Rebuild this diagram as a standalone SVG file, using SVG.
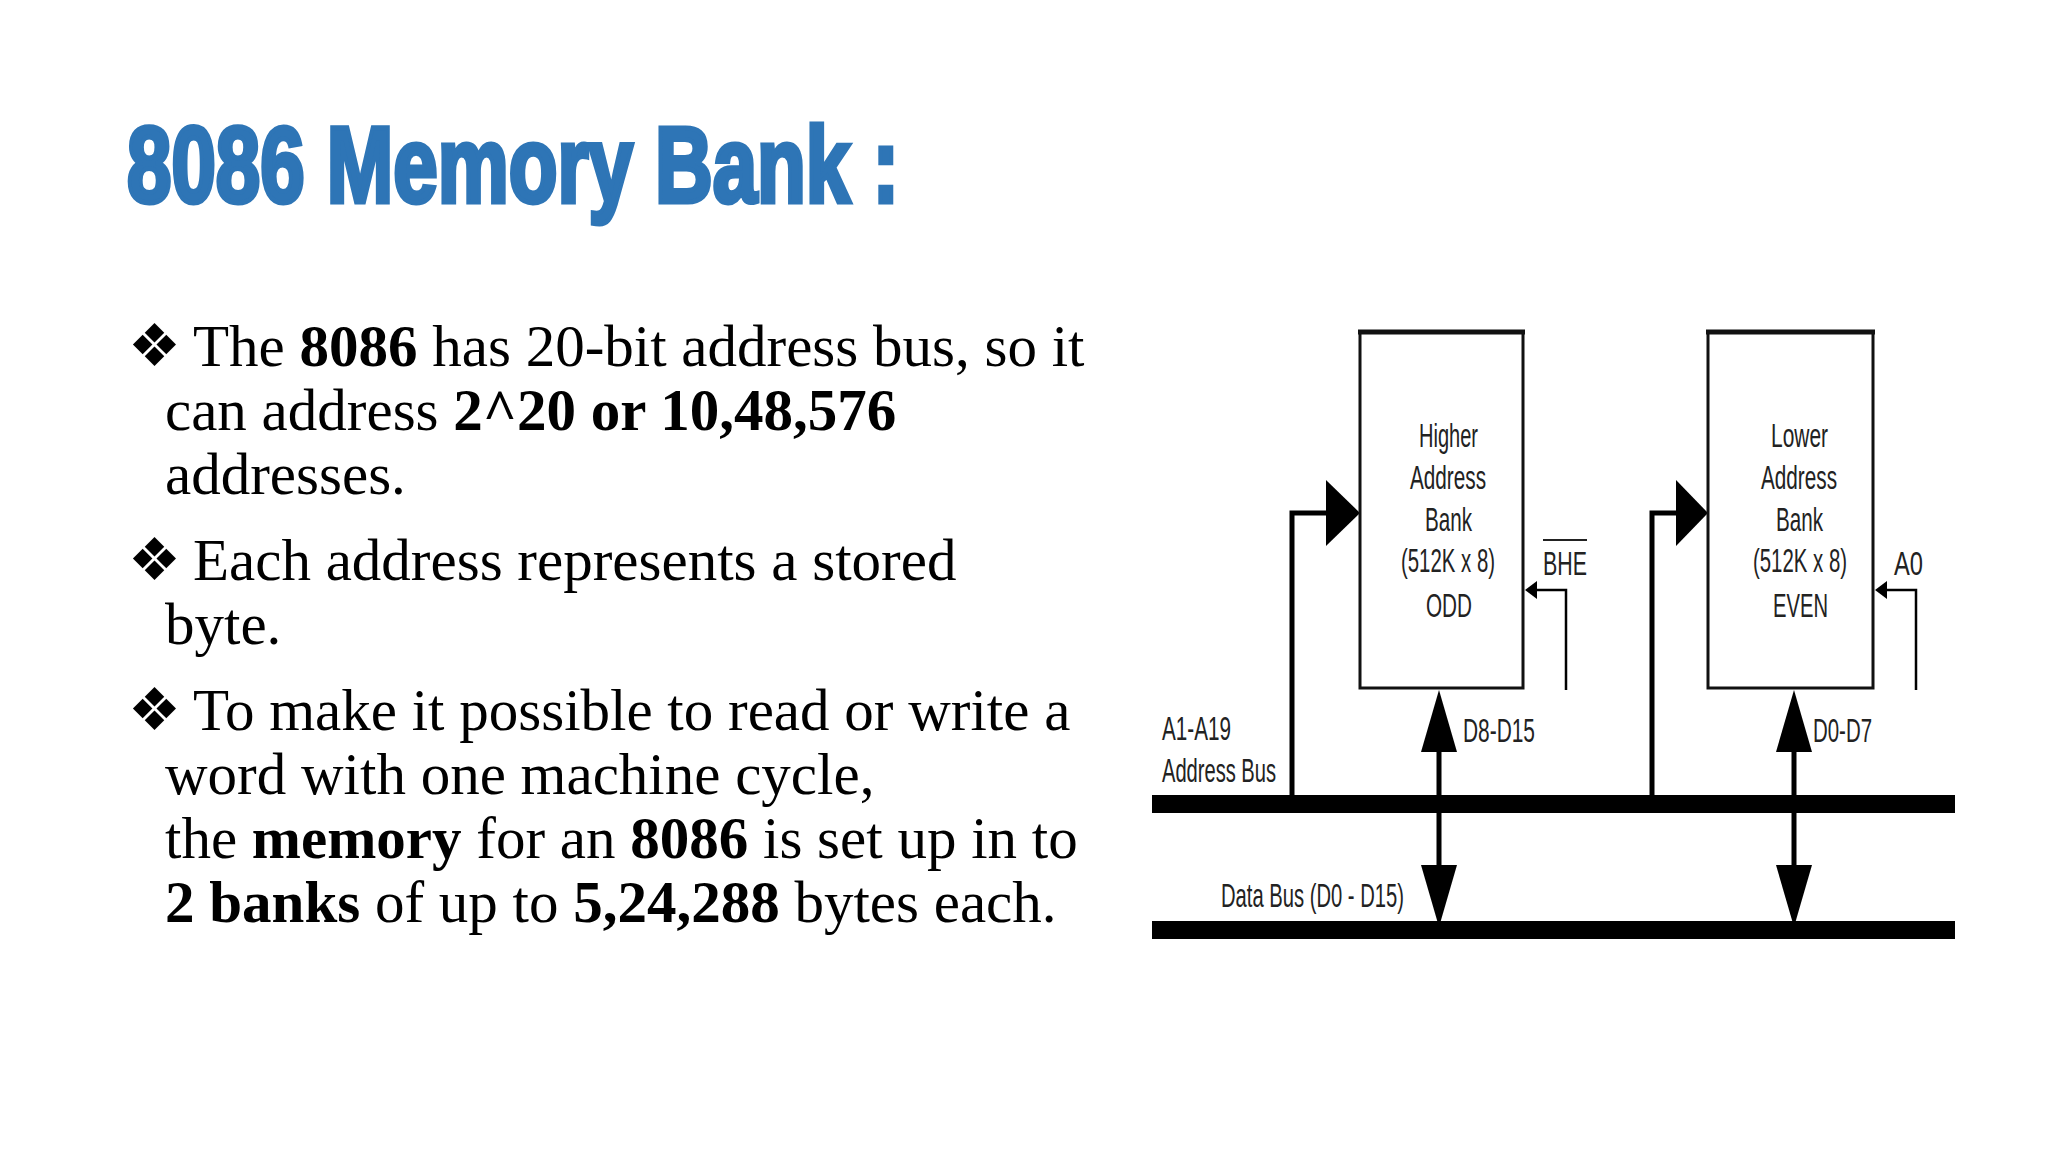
<svg xmlns="http://www.w3.org/2000/svg" width="2048" height="1152" viewBox="0 0 2048 1152">
<style>
.t{font-family:"Liberation Serif",serif;font-size:59px;fill:#000}
.b{font-weight:bold}
.d{font-family:"Liberation Sans",Arial,sans-serif;font-size:34px;fill:#222}
.dm{text-anchor:middle}
.bus{stroke:#000;stroke-width:18;fill:none}
.w{stroke:#000;stroke-width:5;fill:none}
.thin{stroke:#000;stroke-width:2.5;fill:none}
.box{fill:#fff;stroke:#111;stroke-width:3}
</style>
<rect width="2048" height="1152" fill="#fff"/>
<text x="127" y="202" font-family="Liberation Sans,Arial,sans-serif" font-weight="bold" font-size="108" fill="#2e75b6" stroke="#2e75b6" stroke-width="5" textLength="772" lengthAdjust="spacingAndGlyphs">8086 Memory Bank :</text>
<g id="text">
<text class="t" x="128" y="366">❖</text>
<text class="t" x="193" y="366">The <tspan class="b">8086</tspan> has 20-bit address bus, so it</text>
<text class="t" x="165" y="430">can address <tspan class="b">2^20 or 10,48,576</tspan></text>
<text class="t" x="165" y="494">addresses.</text>
<text class="t" x="128" y="580">❖</text>
<text class="t" x="193" y="580">Each address represents a stored</text>
<text class="t" x="165" y="644">byte.</text>
<text class="t" x="128" y="730">❖</text>
<text class="t" x="193" y="730">To make it possible to read or write a</text>
<text class="t" x="165" y="794">word with one machine cycle,</text>
<text class="t" x="165" y="858">the <tspan class="b">memory</tspan> for an <tspan class="b">8086</tspan> is set up in to</text>
<text class="t" x="165" y="922"><tspan class="b">2 banks</tspan> of up to <tspan class="b">5,24,288</tspan> bytes each.</text>
</g>
<g id="connectors">
<line class="bus" x1="1152" y1="804" x2="1955" y2="804"/>
<line class="bus" x1="1152" y1="930" x2="1955" y2="930"/>
<polyline class="w" points="1292,804 1292,513 1330,513"/>
<polygon points="1326,480 1360,513 1326,546" fill="#000"/>
<polyline class="w" points="1652,804 1652,513 1680,513"/>
<polygon points="1676,480 1708,513 1676,546" fill="#000"/>
<line class="w" x1="1439" y1="740" x2="1439" y2="880"/>
<polygon points="1421,752 1439,690 1457,752" fill="#000"/>
<polygon points="1421,865 1439,927 1457,865" fill="#000"/>
<line class="w" x1="1794" y1="740" x2="1794" y2="880"/>
<polygon points="1776,752 1794,690 1812,752" fill="#000"/>
<polygon points="1776,865 1794,927 1812,865" fill="#000"/>
<polyline class="thin" points="1566,690 1566,590 1532,590"/>
<polygon points="1525,590 1537,581 1537,599" fill="#000"/>
<polyline class="thin" points="1916,690 1916,590 1882,590"/>
<polygon points="1875,590 1887,581 1887,599" fill="#000"/>
</g>
<g id="higher">
<rect class="box" x="1360" y="332" width="163" height="356"/>
<line x1="1358" y1="332" x2="1525" y2="332" stroke="#111" stroke-width="5"/>
<text class="d" x="1419" y="447" textLength="59" lengthAdjust="spacingAndGlyphs">Higher</text>
<text class="d" x="1410" y="489" textLength="76" lengthAdjust="spacingAndGlyphs">Address</text>
<text class="d" x="1425" y="531" textLength="47" lengthAdjust="spacingAndGlyphs">Bank</text>
<text class="d" x="1401" y="572" textLength="94" lengthAdjust="spacingAndGlyphs">(512K x 8)</text>
<text class="d" x="1426" y="617" textLength="46" lengthAdjust="spacingAndGlyphs">ODD</text>
</g>
<g id="lower">
<rect class="box" x="1708" y="332" width="165" height="356"/>
<line x1="1706" y1="332" x2="1875" y2="332" stroke="#111" stroke-width="5"/>
<text class="d" x="1771" y="447" textLength="57" lengthAdjust="spacingAndGlyphs">Lower</text>
<text class="d" x="1761" y="489" textLength="76" lengthAdjust="spacingAndGlyphs">Address</text>
<text class="d" x="1776" y="531" textLength="47" lengthAdjust="spacingAndGlyphs">Bank</text>
<text class="d" x="1753" y="572" textLength="94" lengthAdjust="spacingAndGlyphs">(512K x 8)</text>
<text class="d" x="1773" y="617" textLength="55" lengthAdjust="spacingAndGlyphs">EVEN</text>
</g>
<g id="labels">
<text class="d" x="1543" y="575" textLength="44" lengthAdjust="spacingAndGlyphs">BHE</text>
<line x1="1543" y1="540" x2="1587" y2="540" stroke="#222" stroke-width="2"/>
<text class="d" x="1894" y="575" textLength="29" lengthAdjust="spacingAndGlyphs">A0</text>
<text class="d" x="1463" y="742" textLength="72" lengthAdjust="spacingAndGlyphs">D8-D15</text>
<text class="d" x="1813" y="742" textLength="59" lengthAdjust="spacingAndGlyphs">D0-D7</text>
<text class="d" x="1162" y="740" textLength="69" lengthAdjust="spacingAndGlyphs">A1-A19</text>
<text class="d" x="1162" y="782" textLength="114" lengthAdjust="spacingAndGlyphs">Address Bus</text>
<text class="d" x="1221" y="907" textLength="183" lengthAdjust="spacingAndGlyphs">Data Bus (D0 - D15)</text>
</g>
</svg>
